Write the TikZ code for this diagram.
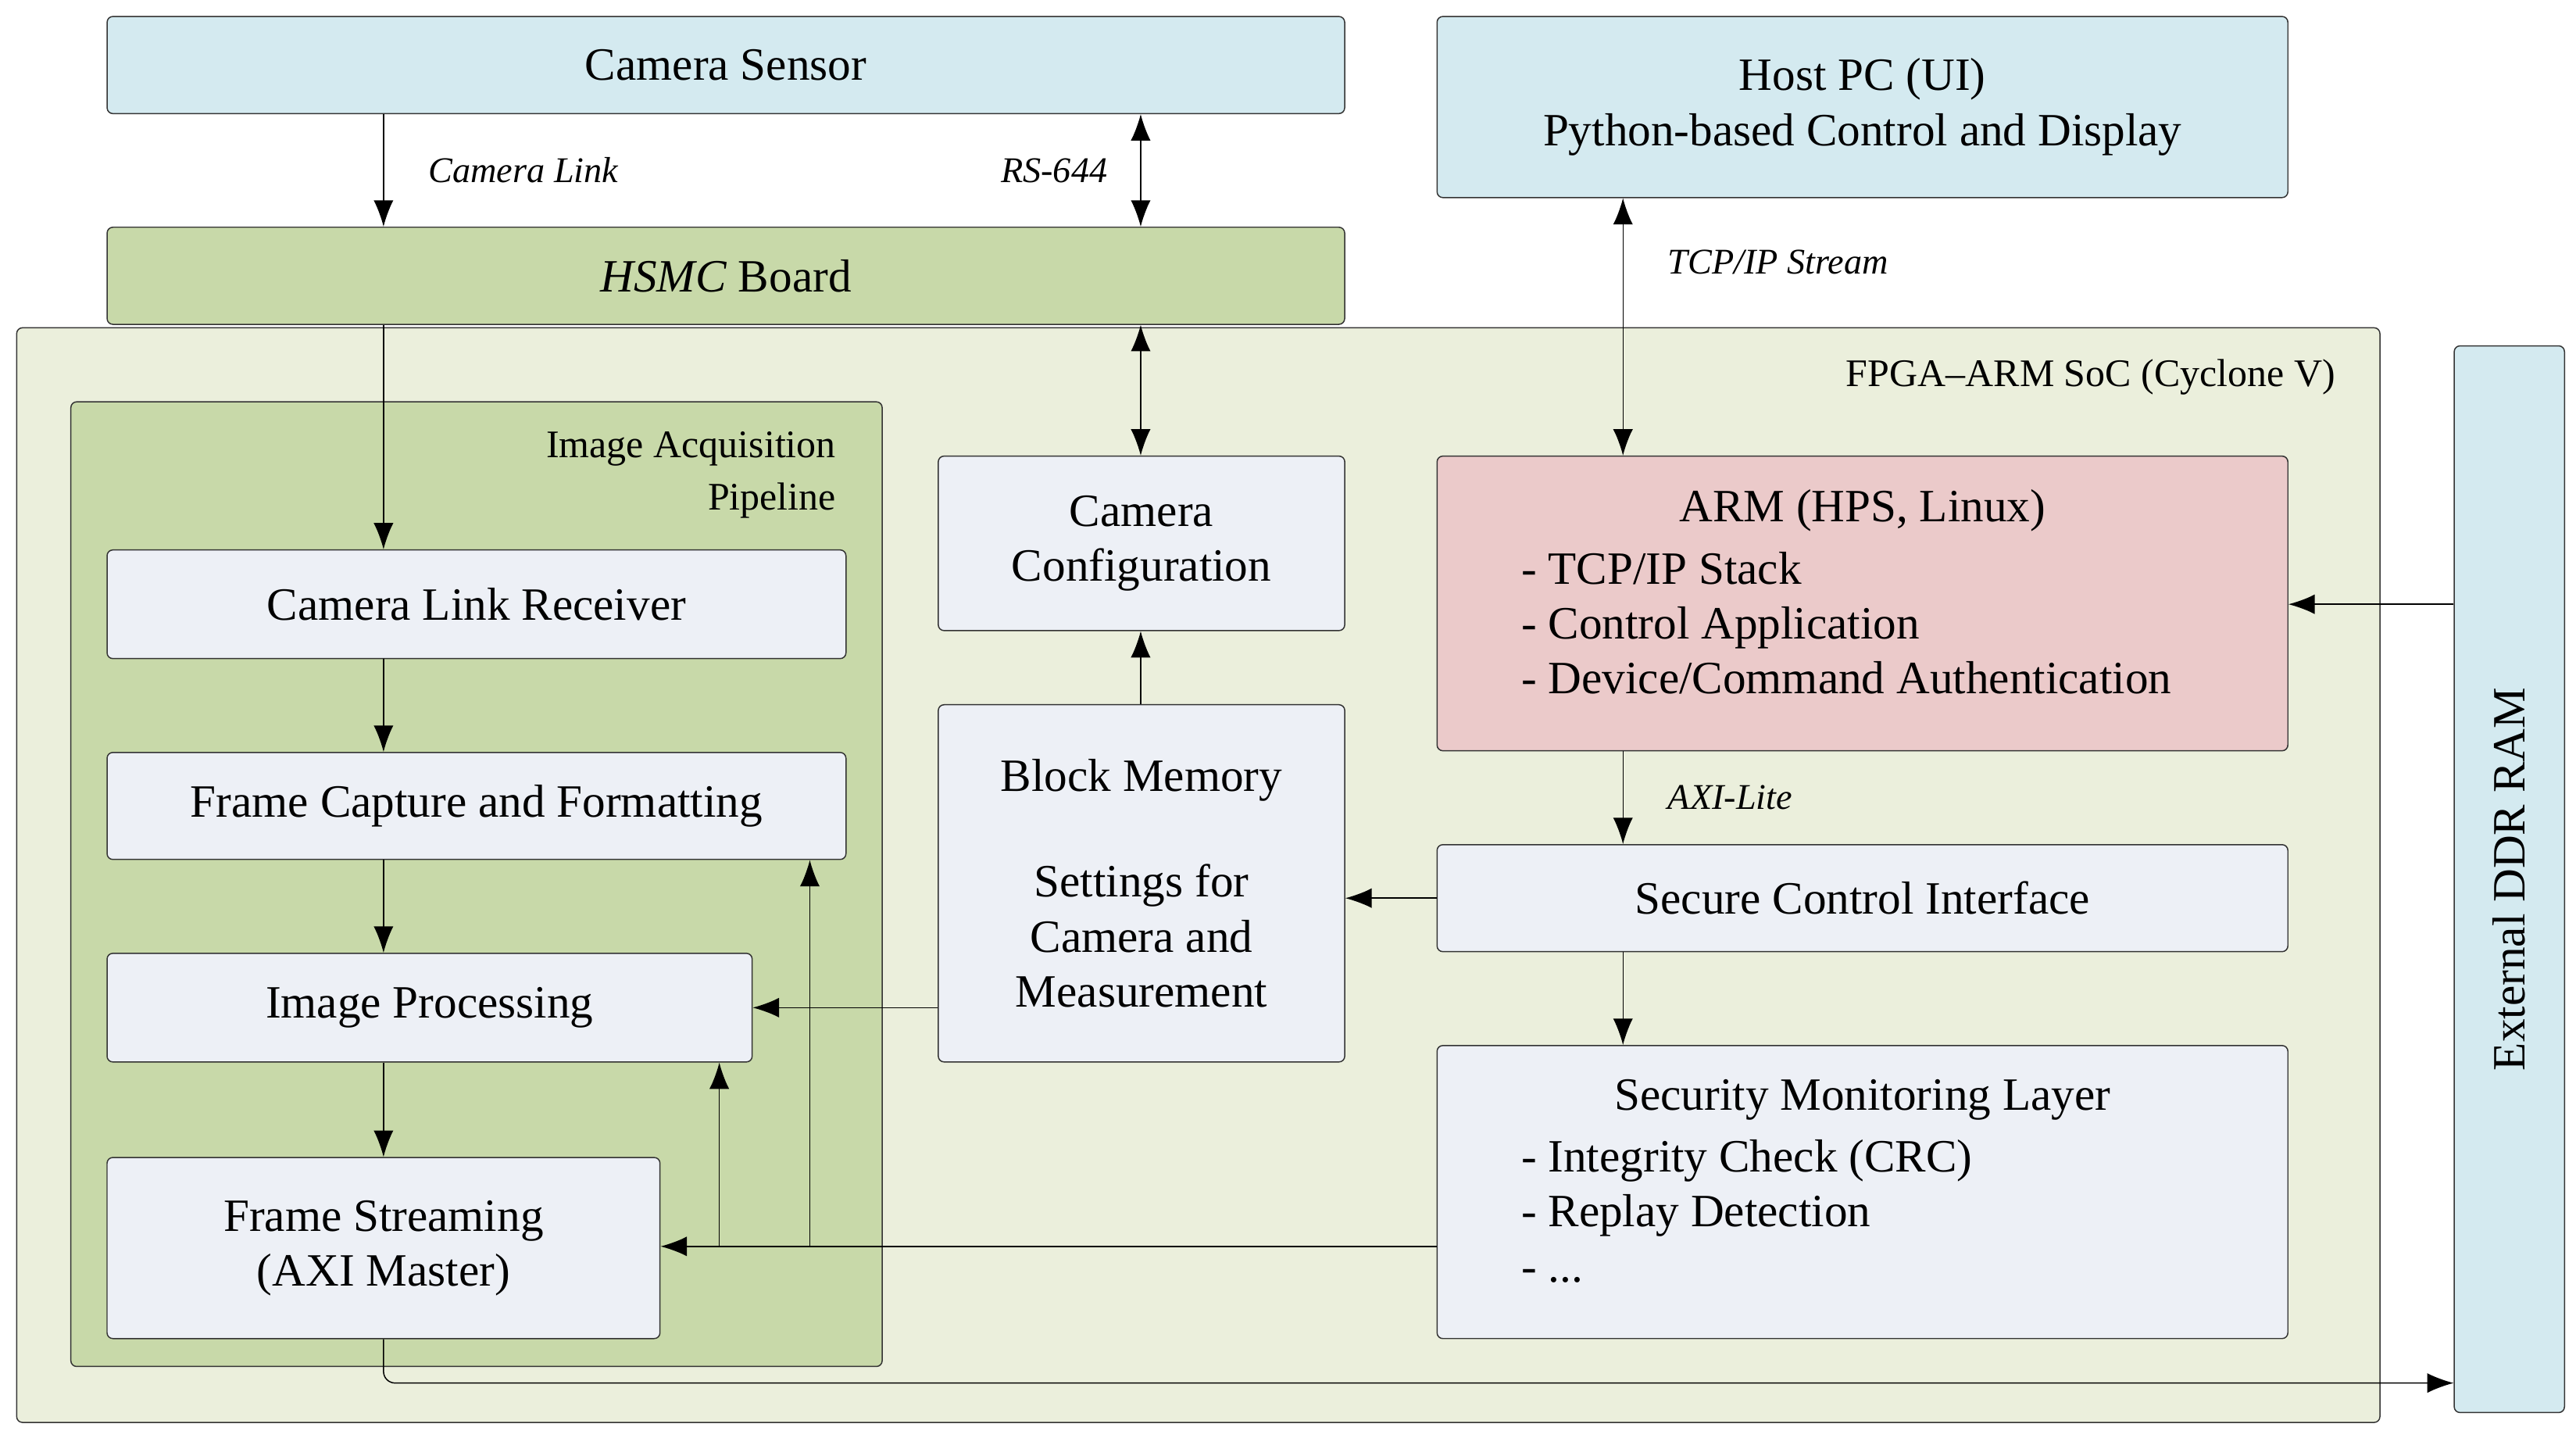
\documentclass[tikz,border=0pt]{standalone}
\usepackage{fontspec}
\setmainfont{Liberation Serif}
\usetikzlibrary{arrows.meta,positioning}
\definecolor{camblue}{HTML}{D4EAF0}
\definecolor{hsmcgreen}{HTML}{C8D9A9}
\definecolor{socbg}{HTML}{EBEFDC}
\definecolor{blockgray}{HTML}{EDF0F6}
\definecolor{armred}{HTML}{EBCACA}
\tikzset{
  box/.style={draw=black!80, thin, rounded corners=2pt, align=center, inner sep=0pt, font=\fontsize{16}{19}\selectfont},
  lbl/.style={font=\fontsize{12.5}{15}\selectfont\itshape},
  arr/.style={-{Latex[length=3.2mm,width=2.4mm]}, thin},
  darr/.style={{Latex[length=3.2mm,width=2.4mm]}-{Latex[length=3.2mm,width=2.4mm]}, thin}
}
\begin{document}
\begin{tikzpicture}[x=0.02cm,y=-0.02cm]
\useasboundingbox (0,0) rectangle (1565,873);

% outer areas
\node (soc) at (728,531.5) [box, fill=socbg, minimum width=28.72cm, minimum height=13.3cm]{};
\node[font=\fontsize{13.5}{16}\selectfont, anchor=east] at (1425,229){FPGA--ARM SoC (Cyclone V)};
\node (pipe) at (289.5,537) [box, fill=hsmcgreen, minimum width=9.86cm, minimum height=11.72cm]{};
\node[font=\fontsize{13.5}{16}\selectfont, anchor=north east, align=right] at (514,256){Image Acquisition\\[2pt]Pipeline};

% top blocks
\node (cs) at (441,39.5) [box, fill=camblue, minimum width=15.04cm, minimum height=1.18cm]{Camera Sensor};
\node (host) at (1131.5,65) [box, fill=camblue, minimum width=10.34cm, minimum height=2.2cm]{Host PC (UI)\\Python-based Control and Display};
\node (hsmc) at (441,167.5) [box, fill=hsmcgreen, minimum width=15.04cm, minimum height=1.18cm]{\textit{HSMC} Board};
\node (ddr) at (1524.5,534) [box, fill=camblue, minimum width=1.34cm, minimum height=12.96cm]{};
\node[rotate=90, font=\fontsize{16}{19}\selectfont] at (1524.5,534){External DDR RAM};

% pipeline
\node (clr) at (289.5,367) [box, fill=blockgray, minimum width=8.98cm, minimum height=1.32cm]{Camera Link Receiver};
\node (fc) at (289.5,489.5) [box, fill=blockgray, minimum width=8.98cm, minimum height=1.3cm]{Frame Capture and Formatting};
\node (ip) at (261,612) [box, fill=blockgray, minimum width=7.84cm, minimum height=1.32cm]{Image Processing};
\node (fs) at (233,758) [box, fill=blockgray, minimum width=6.72cm, minimum height=2.2cm]{Frame Streaming\\(AXI Master)};

% middle column
\node (cc) at (693.5,330) [box, fill=blockgray, minimum width=4.94cm, minimum height=2.12cm]{Camera\\Configuration};
\node (bm) at (693.5,536.5) [box, fill=blockgray, minimum width=4.94cm, minimum height=4.34cm]{Block Memory\\[1.1em]Settings for\\Camera and\\Measurement};

% right column
\node (arm) at (1131.5,366.5) [box, fill=armred, minimum width=10.34cm, minimum height=3.58cm]{};
\node[font=\fontsize{16}{19}\selectfont] at (1131.5,310){ARM (HPS, Linux)};
\node[font=\fontsize{16}{19}\selectfont, anchor=north west, align=left] at (918,329){- TCP/IP Stack\\- Control Application\\- Device/Command Authentication};
\node (sci) at (1131.5,545.5) [box, fill=blockgray, minimum width=10.34cm, minimum height=1.3cm]{Secure Control Interface};
\node (sml) at (1131.5,724) [box, fill=blockgray, minimum width=10.34cm, minimum height=3.56cm]{};
\node[font=\fontsize{16}{19}\selectfont] at (1131.5,668){Security Monitoring Layer};
\node[font=\fontsize{16}{19}\selectfont, anchor=north west, align=left] at (918,686){- Integrity Check (CRC)\\- Replay Detection\\- ...};

% connectors
\draw[arr] (cs.south -| 233,0) -- node[lbl, right=12pt]{Camera Link} (hsmc.north -| 233,0);
\draw[darr] (cs.south -| 693,0) -- node[lbl, left=8pt]{RS-644} (hsmc.north -| 693,0);
\draw[arr] (hsmc.south -| 233,0) -- (clr.north -| 233,0);
\draw[darr] (hsmc.south -| 693,0) -- (cc.north -| 693,0);
\draw[arr] (clr.south -| 233,0) -- (fc.north -| 233,0);
\draw[arr] (fc.south -| 233,0) -- (ip.north -| 233,0);
\draw[arr] (ip.south -| 233,0) -- (fs.north -| 233,0);
\draw[arr] (bm.north -| 693,0) -- (cc.south -| 693,0);
\draw[arr] (bm.west |- 0,612) -- (ip.east |- 0,612);
\draw[arr] (sci.west) -- (bm.east |- sci.west);
\draw[darr] (host.south -| 986,0) -- node[lbl, right=12pt, pos=0.25]{TCP/IP Stream} (arm.north -| 986,0);
\draw[arr] (arm.south -| 986,0) -- node[lbl, right=12pt]{AXI-Lite} (sci.north -| 986,0);
\draw[arr] (sci.south -| 986,0) -- (sml.north -| 986,0);
\draw[arr] (ddr.west |- 0,367) -- (arm.east |- 0,367);
\draw[arr] (sml.west |- 0,757) -- (fs.east |- 0,757);
\draw[arr] (437,757) -- (ip.south -| 437,0);
\draw[arr] (492,757) -- (fc.south -| 492,0);
\draw[arr, rounded corners=4pt] (fs.south) -- (233,840) -- (ddr.west |- 0,840);
\end{tikzpicture}
\end{document}
